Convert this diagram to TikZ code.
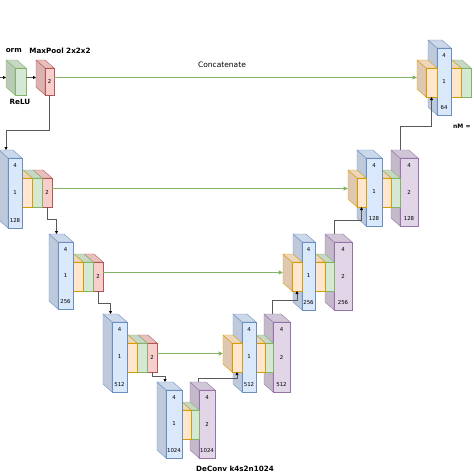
\documentclass[tikz,border=0pt]{standalone}
\usepackage{fontspec}
\setmainfont{DejaVu Sans}
\usetikzlibrary{arrows.meta}
\definecolor{bfill}{HTML}{DAE8FC}\definecolor{bline}{HTML}{6C8EBF}
\definecolor{ofill}{HTML}{FFE6CC}\definecolor{oline}{HTML}{D79B00}
\definecolor{gfill}{HTML}{D5E8D4}\definecolor{gline}{HTML}{82B366}
\definecolor{rfill}{HTML}{F8CECC}\definecolor{rline}{HTML}{B85450}
\definecolor{pfill}{HTML}{E1D5E7}\definecolor{pline}{HTML}{9673A6}
\begin{document}
\begin{tikzpicture}
[x=1pt,y=-1pt,
face/.style={draw=#1line,fill=#1fill,line width=0.4pt,inner sep=0pt,outer sep=0pt,anchor=north west},
side/.style={draw=#1line,fill=#1fill!87!black,line width=0.4pt,line join=round},
roof/.style={draw=#1line,fill=#1fill!93!black,line width=0.4pt,line join=round},
lbl/.style={font=\fontsize{5.4}{6}\selectfont,inner sep=0pt},
title/.style={font=\bfseries\fontsize{7.2}{8}\selectfont,inner sep=0pt},
skip/.style={draw=gline,line width=1.1pt,-{Triangle[length=4.5pt,width=4pt]}},
feed/.style={draw=black!65,line width=0.7pt,-{Triangle[length=3pt,width=3pt,color=black]}},
pics/slab/.style n args={4}{code={
  \filldraw[side=#1] (0,0) -- ++(-9,-8) -- ++(0,#3) -- (0,#3) -- cycle;
  \filldraw[roof=#1] (0,0) -- ++(-9,-8) -- ++(#2,0) -- (#2,0) -- cycle;
  \node[face=#1,minimum width=#2pt,minimum height=#3pt] (-f) at (0,0) {};
  \node[lbl] (-l) at (#2/2,#3/2) {#4};
  \coordinate (-e) at (#2,#3/2-4);
  \coordinate (-s) at (-9,#3/2-4);}},
pics/tower/.style n args={6}{code={
  \filldraw[side=#1] (0,0) -- ++(-9,-8) -- ++(0,#3) -- (0,#3) -- cycle;
  \filldraw[roof=#1] (0,0) -- ++(-9,-8) -- ++(#2,0) -- (#2,0) -- cycle;
  \node[face=#1,minimum width=#2pt,minimum height=#3pt] (-f) at (0,0) {};
  \node[lbl] (-t) at (#2/2,8) {#4};
  \node[lbl] (-m) at (#2/2,#3/2) {#5};
  \node[lbl] (-b) at (#2/2,#3-7) {#6};
  \coordinate (-n) at (#2/2-9,-8);}}]
  \useasboundingbox (0,0) rectangle (474,474);
  % input side
  \pic (relu0) at (15,68) {slab={g}{11}{27}{}};
  \pic (pool0) at (45,68) {slab={r}{9}{27}{2}};
  % down path
  \pic (redD1) at (42,178) {slab={r}{10}{29}{2}};
  \pic (grnD1) at (32,178) {slab={g}{10}{29}{}};
  \pic (orD1)  at (22,178) {slab={o}{10}{29}{}};
  \pic (blueD1) at (8,158) {tower={b}{14}{70}{4}{1}{128}};
  \pic (redD2) at (93,262) {slab={r}{10}{29}{2}};
  \pic (grnD2) at (83,262) {slab={g}{10}{29}{}};
  \pic (orD2)  at (73,262) {slab={o}{10}{29}{}};
  \pic (blueD2) at (58,242) {tower={b}{15}{67}{4}{1}{256}};
  \pic (redD3) at (147,343) {slab={r}{10}{29}{2}};
  \pic (grnD3) at (137,343) {slab={g}{10}{29}{}};
  \pic (orD3)  at (127,343) {slab={o}{10}{29}{}};
  \pic (blueD3) at (112,322) {tower={b}{15}{70}{4}{1}{512}};
  % bottom
  \pic (purB) at (199,390) {tower={p}{16}{68}{4}{2}{1024}};
  \pic (grnB) at (191,410) {slab={g}{8}{29}{}};
  \pic (orB)  at (182,410) {slab={o}{9}{29}{}};
  \pic (blueB) at (166,390) {tower={b}{16}{68}{4}{1}{1024}};
  % up path
  \pic (purU3) at (273,322) {tower={p}{17}{70}{4}{2}{512}};
  \pic (grnU3) at (265,343) {slab={g}{8}{29}{}};
  \pic (orU3r) at (256,343) {slab={o}{9}{29}{}};
  \pic (blueU3) at (242,322) {tower={b}{14}{70}{4}{1}{512}};
  \pic (orU3l) at (232,343) {slab={o}{10}{29}{}};
  \pic (purU2) at (334,242) {tower={p}{18}{68}{4}{2}{256}};
  \pic (grnU2) at (325,262) {slab={g}{9}{29}{}};
  \pic (orU2r) at (315,262) {slab={o}{10}{29}{}};
  \pic (blueU2) at (302,242) {tower={b}{13}{68}{4}{1}{256}};
  \pic (orU2l) at (292,262) {slab={o}{10}{29}{}};
  \pic (purU1) at (400,158) {tower={p}{18}{68}{4}{2}{128}};
  \pic (grnU1) at (391,178) {slab={g}{9}{29}{}};
  \pic (orU1r) at (382,178) {slab={o}{9}{29}{}};
  \pic (blueU1) at (366,158) {tower={b}{16}{68}{4}{1}{128}};
  \pic (orU1l) at (357,178) {slab={o}{9}{29}{}};
  \pic (grnU0) at (461,68) {slab={g}{10}{29}{}};
  \pic (orU0r) at (451,68) {slab={o}{10}{29}{}};
  \pic (blueU0) at (437,48) {tower={b}{14}{67}{4}{1}{64}};
  \pic (orU0l) at (426,68) {slab={o}{11}{29}{}};
  % texts
  \node[title,anchor=east] (bnText) at (22,51) {orm};
  \node[title] (poolText) at (60,51) {MaxPool 2x2x2};
  \node[title] (reluText) at (20,102) {ReLU};
  \node[font=\fontsize{7.5}{9}\selectfont] (catText) at (222,65) {Concatenate};
  \node[title] (deconvText) at (235,469) {DeConv k4s2n1024};
  \node[title,anchor=west,font=\bfseries\fontsize{6}{7}\selectfont] (nmText) at (453,126) {nM =};
  % connectors
  \coordinate (src) at (0,77.5);
  \draw[feed] (src) -- (relu0-s);
  \draw[feed] (relu0-e) -- (pool0-s);
  \draw[skip] (pool0-e) -- (pool0-e -| orU0l-s);
  \draw[skip] (redD1-e) -- (redD1-e -| orU1l-s);
  \draw[skip] (redD2-e) -- (redD2-e -| orU2l-s);
  \draw[skip] (redD3-e) -- (redD3-e -| orU3l-s);
  \draw[feed] (pool0-f.south) -- ++(0,35) -| (blueD1-n);
  \draw[feed] (redD1-f.south) -- ++(0,12) -| (blueD2-n);
  \draw[feed] (redD2-f.south) -- ++(0,12) -| (blueD3-n);
  \draw[feed] (redD3-f.south) -- ++(0,4) -| (blueB-n);
  \draw[feed] (purB-n) -- ++(0,-4) -| (orU3l-f.south);
  \draw[feed] (purU3-n) -- ++(0,-14) -| (orU2l-f.south);
  \draw[feed] (purU2-n) -- ++(0,-14) -| (orU1l-f.south);
  \draw[feed] (purU1-n) -- ++(0,-24) -| (orU0l-f.south);
\end{tikzpicture}
\end{document}
